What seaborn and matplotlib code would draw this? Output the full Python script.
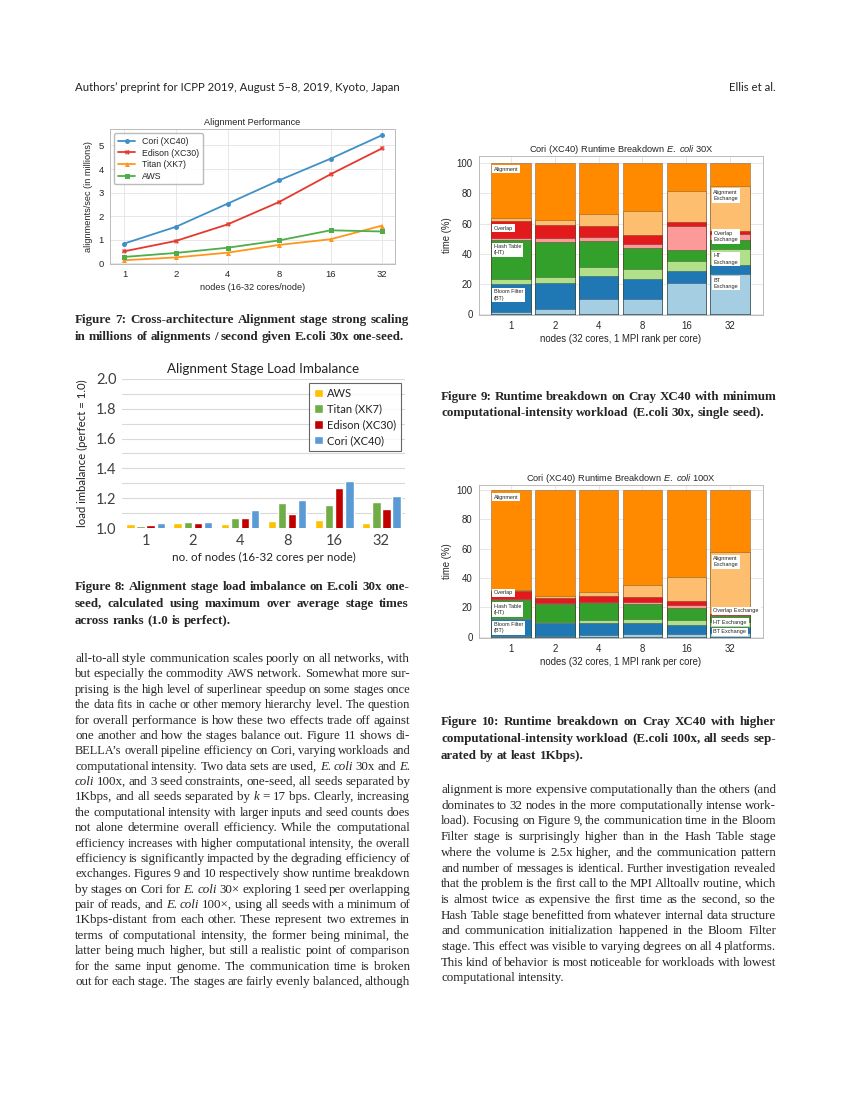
import numpy as np
import pandas as pd
import matplotlib
matplotlib.use('Agg')
import matplotlib.pyplot as plt
import seaborn as sns

# ---- data -------------------------------------------------------------
node_vals = [1, 2, 4, 8, 16, 32]
node_labels = ['1', '2', '4', '8', '16', '32']

# Figure 7: alignments/sec (millions)
perf_systems = ['Cori (XC40)', 'Edison (XC30)', 'Titan (XK7)', 'AWS']
perf_cori = [0.84, 1.55, 2.53, 3.52, 4.44, 5.44]
perf_edison = [0.51, 0.95, 1.65, 2.60, 3.78, 4.88]
perf_titan = [0.13, 0.25, 0.45, 0.78, 1.02, 1.60]
perf_aws = [0.27, 0.44, 0.66, 0.97, 1.40, 1.35]

# Figure 8: load imbalance
imb_systems = ['AWS', 'Titan (XK7)', 'Edison (XC30)', 'Cori (XC40)']
imb_aws = [1.030, 1.036, 1.030, 1.050, 1.054, 1.034]
imb_titan = [1.016, 1.043, 1.065, 1.170, 1.157, 1.175]
imb_edison = [1.022, 1.034, 1.067, 1.094, 1.270, 1.130]
imb_cori = [1.034, 1.038, 1.124, 1.187, 1.315, 1.216]

# Figures 9/10: runtime breakdown (% of time), bottom to top
stages = ['BT Exchange', 'Bloom Filter (BT)', 'HT Exchange', 'Hash Table (HT)',
          'Overlap Exchange', 'Overlap', 'Alignment Exchange', 'Alignment']
bt_exch_30 = [1.3, 3.3, 9.7, 10.0, 20.8, 26.8]
bt_30 = [18.7, 17.5, 15.3, 13.5, 8.0, 5.5]
ht_exch_30 = [3.0, 3.5, 6.2, 6.4, 6.6, 10.6]
ht_30 = [25.9, 23.7, 17.3, 14.1, 6.9, 6.0]
ovl_exch_30 = [1.3, 2.2, 2.4, 2.7, 15.9, 4.4]
ovl_30 = [11.5, 8.6, 7.5, 6.0, 3.1, 1.6]
aln_exch_30 = [1.8, 3.4, 8.0, 15.9, 20.3, 30.1]
aln_30 = [36.5, 37.8, 33.6, 31.4, 18.4, 15.0]

bt_exch_100 = [0.7, 0.5, 1.1, 1.8, 1.8, 2.3]
bt_100 = [11.3, 8.6, 8.4, 7.5, 6.2, 4.1]
ht_exch_100 = [1.0, 0.7, 1.9, 3.0, 3.6, 3.8]
ht_100 = [12.0, 12.7, 11.3, 10.2, 8.2, 4.1]
ovl_exch_100 = [0.7, 0.7, 1.2, 1.1, 1.8, 0.7]
ovl_100 = [5.3, 3.4, 3.8, 3.4, 2.7, 0.5]
aln_exch_100 = [0.5, 1.1, 3.0, 8.2, 16.2, 42.5]
aln_100 = [68.5, 72.3, 69.3, 64.8, 59.5, 42.0]

paired = ['#a6cee3', '#1f78b4', '#b2df8a', '#33a02c',
          '#fb9a99', '#e31a1c', '#fdbf6f', '#ff8a00']

# ---- page text ----------------------------------------------------------
header_left = 'Authors\u2019 preprint for ICPP 2019, August 5\u20138, 2019, Kyoto, Japan'
header_right = 'Ellis et al.'

cap7 = ['Figure 7: Cross-architecture Alignment stage strong scaling',
        'in millions of alignments / second given E.coli 30x one-seed.']
cap8 = ['Figure 8: Alignment stage load imbalance on E.coli 30x one-',
        'seed, calculated using maximum over average stage times',
        'across ranks (1.0 is perfect).']
cap9 = ['Figure 9: Runtime breakdown on Cray XC40 with minimum',
        'computational-intensity workload (E.coli 30x, single seed).']
cap10 = ['Figure 10: Runtime breakdown on Cray XC40 with higher',
         'computational-intensity workload (E.coli 100x, all seeds sep-',
         'arated by at least 1Kbps).']

# words starting with ~ are italic
body_left = [
    'all-to-all style communication scales poorly on all networks, with',
    'but especially the commodity AWS network. Somewhat more sur-',
    'prising is the high level of superlinear speedup on some stages once',
    'the data fits in cache or other memory hierarchy level. The question',
    'for overall performance is how these two effects trade off against',
    'one another and how the stages balance out. Figure 11 shows di-',
    'BELLA\u2019s overall pipeline efficiency on Cori, varying workloads and',
    'computational intensity. Two data sets are used, ~E. ~coli 30x and ~E.',
    '~coli 100x, and 3 seed constraints, one-seed, all seeds separated by',
    '1Kbps, and all seeds separated by ~k = 17 bps. Clearly, increasing',
    'the computational intensity with larger inputs and seed counts does',
    'not alone determine overall efficiency. While the computational',
    'efficiency increases with higher computational intensity, the overall',
    'efficiency is significantly impacted by the degrading efficiency of',
    'exchanges. Figures 9 and 10 respectively show runtime breakdown',
    'by stages on Cori for ~E. ~coli 30\u00d7 exploring 1 seed per overlapping',
    'pair of reads, and ~E. ~coli 100\u00d7, using all seeds with a minimum of',
    '1Kbps-distant from each other. These represent two extremes in',
    'terms of computational intensity, the former being minimal, the',
    'latter being much higher, but still a realistic point of comparison',
    'for the same input genome. The communication time is broken',
    'out for each stage. The stages are fairly evenly balanced, although',
]
body_right = [
    'alignment is more expensive computationally than the others (and',
    'dominates to 32 nodes in the more computationally intense work-',
    'load). Focusing on Figure 9, the communication time in the Bloom',
    'Filter stage is surprisingly higher than in the Hash Table stage',
    'where the volume is 2.5x higher, and the communication pattern',
    'and number of messages is identical. Further investigation revealed',
    'that the problem is the first call to the MPI Alltoallv routine, which',
    'is almost twice as expensive the first time as the second, so the',
    'Hash Table stage benefitted from whatever internal data structure',
    'and communication initialization happened in the Bloom Filter',
    'stage. This effect was visible to varying degrees on all 4 platforms.',
    'This kind of behavior is most noticeable for workloads with lowest',
    'computational intensity.',
]

# ---- style ----------------------------------------------------------------
sns.set_style('whitegrid')
plt.rcParams['font.family'] = ['Liberation Sans', 'DejaVu Sans']
plt.rcParams['mathtext.fontset'] = 'custom'
plt.rcParams['mathtext.it'] = 'Liberation Sans:italic'
plt.rcParams['mathtext.rm'] = 'Liberation Sans'

W, H = 850, 1100
fig = plt.figure(figsize=(8.5, 11), dpi=100)
renderer = fig.canvas.get_renderer()
SERIF = ['Liberation Serif', 'DejaVu Serif']

try:
    from matplotlib.backends.backend_agg import get_hinting_flag
except ImportError:
    get_hinting_flag = None


def box(l, t, r, b):
    return [l / W, 1 - b / H, (r - l) / W, (b - t) / H]


def baseline_fix(t):
    # Agg rounds each word's bitmap on its own descent; shift so all words
    # of a line end up on the same pixel row
    if get_hinting_flag is None:
        return 0.0
    try:
        font = renderer._prepare_font(t.get_fontproperties())
        font.set_text(t.get_text(), 0, flags=get_hinting_flag())
        h_sub = font.get_width_height()[1]
        d_sub = font.get_descent()
        a, d = (h_sub - d_sub) / 64.0, d_sub / 64.0
        return np.floor(a + d) - np.floor(a) - d
    except Exception:
        return 0.0


def put_line(line, x0, x1, y, size, weight='normal', justify=True, min_gap=2.4):
    toks = []
    for tok in line.split(' '):
        style = 'normal'
        if tok.startswith('~'):
            tok, style = tok[1:], 'italic'
        toks.append((tok, style))
    just = justify and len(toks) > 1
    for attempt in range(4):
        texts = [fig.text(0, 0, tok, fontsize=size, family=SERIF, weight=weight,
                          style=st, va='baseline') for tok, st in toks]
        widths = [t.get_window_extent(renderer).width for t in texts]
        gap = size * 100 / 72 * 0.25
        if not just:
            break
        gap = (x1 - x0 - sum(widths)) / (len(texts) - 1)
        if gap >= min_gap or attempt == 3:
            break
        # line too long for the column: shrink this line a little
        for t in texts:
            t.remove()
        size *= 0.99 * (x1 - x0 - min_gap * (len(texts) - 1)) / sum(widths)
    x = x0
    yb = round(y)
    for t, w in zip(texts, widths):
        t.set_position((x / W, 1 - (yb + baseline_fix(t)) / H))
        x += w + gap


def put_par(lines, x0, x1, y0, dy, size, weight='normal', last_justified=False):
    for i, line in enumerate(lines):
        just = last_justified or i < len(lines) - 1
        put_line(line, x0, x1, y0 + i * dy, size, weight, just)


# header, sized to the column
sans = ['Lato', 'DejaVu Sans']
tmp = fig.text(0, 0, header_left, fontsize=10, family=sans)
hsize = 10 * 324 / tmp.get_window_extent(renderer).width
tmp.remove()
fig.text(75 / W, 1 - 91 / H, header_left, fontsize=hsize, family=sans,
         va='baseline', color='#222222')
fig.text(776 / W, 1 - 91 / H, header_right, fontsize=hsize, family=sans,
         va='baseline', ha='right', color='#222222')

# captions and body
put_par(cap7, 75, 409, 323, 16.5, 9.4, 'bold')
put_par(cap8, 75, 409, 590, 17, 9.4, 'bold')
put_par(cap9, 441, 776, 400, 16.5, 9.4, 'bold')
put_par(cap10, 441, 776, 725, 17, 9.4, 'bold')
put_par(body_left, 75, 410, 662, 15.38, 9.4, last_justified=True)
put_par(body_right, 441, 776, 793, 15.7, 9.4)

# ---- Figure 7: line chart ---------------------------------------------------
ax1 = fig.add_axes(box(110, 129, 395, 264))
df1 = pd.DataFrame({
    'nodes': node_vals * 4,
    'value': perf_cori + perf_edison + perf_titan + perf_aws,
    'system': [s for s in perf_systems for _ in node_vals],
})
sns.lineplot(data=df1, x='nodes', y='value', hue='system', style='system',
             markers=['o', 'X', '^', 's'], dashes=False,
             palette=['#4090c8', '#e5392e', '#ff961c', '#4fae4a'],
             linewidth=1.3, markersize=3.6, markeredgewidth=0, ax=ax1)
ax1.set_xscale('log', base=2)
ax1.xaxis.set_minor_locator(matplotlib.ticker.NullLocator())
ax1.set_xticks(node_vals, node_labels)
ax1.set_xlim(2 ** -0.28, 2 ** 5.25)
ax1.set_ylim(-0.03, 5.7)
ax1.set_yticks(range(6))
ax1.set_title('Alignment Performance', fontsize=6.6, pad=3)
ax1.set_xlabel('nodes (16-32 cores/node)', fontsize=6.6, labelpad=3)
ax1.set_ylabel('alignments/sec (in millions)', fontsize=6.6, labelpad=4)
ax1.tick_params(labelsize=6.8, length=2.5, width=0.6, color='#999999', pad=2)
ax1.grid(color='#e3e3e3', linewidth=0.6)
for sp in ax1.spines.values():
    sp.set_color('#bbbbbb')
    sp.set_linewidth(0.7)
sns.move_legend(ax1, 'upper left', title=None, fontsize=6.3, frameon=True,
                borderpad=0.4, labelspacing=0.3, handlelength=2.0,
                borderaxespad=0.5)
ax1.get_legend().get_frame().set_edgecolor('#aaaaaa')

# ---- Figure 8: grouped bars -------------------------------------------------
ax2 = fig.add_axes(box(122, 379, 405, 528))
df2 = pd.DataFrame({
    'nodes': node_labels * 4,
    'value': imb_aws + imb_titan + imb_edison + imb_cori,
    'system': [s for s in imb_systems for _ in node_labels],
})
sns.barplot(data=df2, x='nodes', y='value', hue='system', order=node_labels,
            palette=['#ffc000', '#70ad47', '#c00000', '#5b9bd5'], saturation=1,
            width=0.86, gap=0.18, errorbar=None, ax=ax2)
ax2.set_ylim(1.0, 2.0)
ax2.set_xlim(-0.5, 5.5)
yt = np.round(np.arange(1.0, 2.001, 0.1), 1)
ax2.set_yticks(yt, ['%.1f' % v if i % 2 == 0 else '' for i, v in enumerate(yt)])
ax2.grid(axis='y', color='#d9d9d9', linewidth=0.8)
ax2.grid(axis='x', visible=False)
ax2.set_axisbelow(True)
for sp in ax2.spines.values():
    sp.set_visible(False)
cal = ['Lato', 'DejaVu Sans']
ax2.tick_params(length=0, labelsize=10.5, colors='#404040', pad=4)
for lab in ax2.get_xticklabels() + ax2.get_yticklabels():
    lab.set_family(cal)
ax2.set_title('Alignment Stage Load Imbalance', fontsize=9.6, family=cal, pad=4, color='#222222')
ax2.set_xlabel('no. of nodes (16-32 cores per node)', fontsize=8.4, family=cal,
               labelpad=3, color='#222222')
ax2.set_ylabel('load imbalance (perfect = 1.0)', fontsize=8.2, family=cal,
               labelpad=6, color='#222222')
sns.move_legend(ax2, 'upper right', title=None, frameon=True, fancybox=False,
                prop={'family': cal, 'size': 8.0}, handlelength=0.8, handleheight=0.8,
                handletextpad=0.4, labelspacing=0.42, borderaxespad=0.35, borderpad=0.45)
leg = ax2.get_legend()
leg.get_frame().set_edgecolor('#404040')
leg.get_frame().set_linewidth(0.8)
for t in leg.get_texts():
    t.set_color('#222222')


# ---- Figures 9/10: stacked runtime breakdown ------------------------------
def stacked(ax, segs, title, ylim, left_labels, right_labels):
    tops = np.cumsum(np.array(segs), axis=0)
    for k in range(len(segs) - 1, -1, -1):
        sns.barplot(x=node_labels, y=tops[k], order=node_labels, color=paired[k],
                    saturation=1, width=0.9, errorbar=None, ax=ax,
                    edgecolor=(0, 0, 0, 0.35), linewidth=0.5)
    ax.set_ylim(*ylim)
    ax.set_xlim(-0.73, 5.75)
    ax.set_yticks(range(0, 101, 20))
    ax.set_title(title, fontsize=6.7, pad=3)
    ax.set_xlabel('nodes (32 cores, 1 MPI rank per core)', fontsize=6.9, labelpad=2)
    ax.set_ylabel('time (%)', fontsize=6.9, labelpad=3)
    ax.tick_params(labelsize=6.9, length=2.5, width=0.6, color='#999999', pad=2)
    ax.grid(color='#e3e3e3', linewidth=0.6)
    ax.set_axisbelow(True)
    for sp in ax.spines.values():
        sp.set_color('#bbbbbb')
        sp.set_linewidth(0.7)
    for txt, y in left_labels:
        ax.text(-0.39, y, txt, fontsize=4.0, va='center', ha='left', linespacing=1.3,
                bbox=dict(facecolor='white', edgecolor='none', pad=1.2))
    for txt, y in right_labels:
        ax.text(4.62, y, txt, fontsize=4.0, va='center', ha='left', linespacing=1.3,
                bbox=dict(facecolor='white', edgecolor='none', pad=1.2))


ax3 = fig.add_axes(box(479, 156, 763, 315))
stacked(ax3, [bt_exch_30, bt_30, ht_exch_30, ht_30, ovl_exch_30, ovl_30, aln_exch_30, aln_30],
        r'Cori (XC40) Runtime Breakdown $\mathit{E.\ coli}$ 30X', (-0.7, 104.8),
        [('Alignment', 96), ('Overlap', 57), ('Hash Table\n(HT)', 42.5),
         ('Bloom Filter\n(BT)', 12.6)],
        [('Alignment\nExchange', 78.5), ('Overlap\nExchange', 51.3),
         ('HT\nExchange', 36.5), ('BT\nExchange', 20.4)])

ax4 = fig.add_axes(box(479, 485, 763, 638))
stacked(ax4, [bt_exch_100, bt_100, ht_exch_100, ht_100, ovl_exch_100, ovl_100,
              aln_exch_100, aln_100],
        r'Cori (XC40) Runtime Breakdown $\mathit{E.\ coli}$ 100X', (-0.9, 103.4),
        [('Alignment', 95), ('Overlap', 30), ('Hash Table\n(HT)', 18.6),
         ('Bloom Filter\n(BT)', 6)],
        [('Alignment\nExchange', 51), ('Overlap Exchange', 17.7),
         ('HT Exchange', 9.8), ('BT Exchange', 3.4)])

fig.savefig('out.png', dpi=100)
